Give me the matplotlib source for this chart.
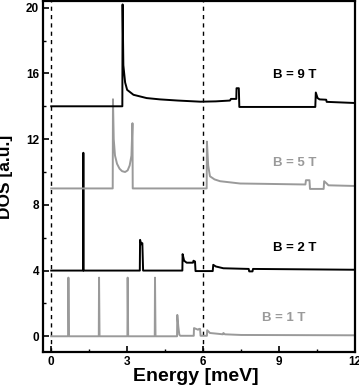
import numpy as np
import matplotlib.pyplot as plt
from matplotlib.ticker import MultipleLocator

# B = 9 T (black, offset 14)
e_9T = [0, 2.81, 2.82, 2.85, 2.92, 3.0, 3.25, 3.77, 4.3, 5.0, 5.9, 6.5, 7.06, 7.1, 7.31,
        7.32, 7.41, 7.43, 10.43, 10.45, 10.52, 10.6, 10.86, 10.88, 12.0]
d_9T = [14, 14, 20.2, 16.5, 15.45, 15.0, 14.7, 14.5, 14.42, 14.35, 14.28, 14.3, 14.35, 14.45, 14.45,
        15.1, 15.1, 13.96, 13.96, 14.84, 14.5, 14.42, 14.4, 14.27, 14.2]

# B = 5 T (grey, offset 9)
e_5T = [0, 2.43, 2.44, 2.47, 2.52, 2.6, 2.7, 2.8, 2.92, 3.02, 3.1, 3.17, 3.21, 3.22, 6.14,
        6.15, 6.2, 6.27, 6.45, 6.67, 7.46, 8.38, 10.04, 10.06, 10.2, 10.22, 10.76, 10.78,
        10.88, 10.95, 12.0]
d_5T = [9, 9, 14.43, 12.0, 11.0, 10.5, 10.2, 10.05, 10.0, 10.1, 10.4, 11.0, 12.97, 9.0, 9.0,
        11.85, 10.4, 9.74, 9.55, 9.44, 9.3, 9.28, 9.24, 9.5, 9.5, 8.97, 8.97, 9.44,
        9.3, 9.19, 9.15]

# B = 2 T (black, offset 4)
e_2T = [0, 1.26, 1.27, 1.28, 3.5, 3.51, 3.56, 3.6, 3.63, 5.18, 5.19, 5.25, 5.35, 5.6, 5.62,
        5.68, 5.7, 6.38, 6.4, 6.5, 6.8, 7.8, 7.82, 7.95, 7.97, 12.0]
d_2T = [4, 4, 11.17, 4, 4, 5.87, 5.6, 5.67, 4.0, 4.0, 5.0, 4.6, 4.48, 4.48, 4.6,
        4.55, 3.97, 3.97, 4.35, 4.25, 4.14, 4.1, 3.95, 3.95, 4.1, 4.05]

# B = 1 T (grey, offset 0)
e_1T = [0, 0.67, 0.68, 0.70, 1.88, 1.89, 1.91, 3.01, 3.02, 3.04, 4.09, 4.10, 4.12,
        4.97, 4.98, 5.02, 5.06, 5.1, 5.63, 5.64, 5.8, 5.84, 5.88, 5.9, 6.15, 6.16, 6.27,
        6.6, 6.78, 6.8, 6.86, 7.5, 12.0]
d_1T = [0, 0, 3.57, 0, 0, 3.57, 0, 0, 3.57, 0, 0, 3.57, 0,
        0, 1.3, 0.6, 0.1, 0.03, 0.03, 0.5, 0.4, 0.45, 0.45, 0.03, 0.03, 0.37, 0.2,
        0.15, 0.12, 0.2, 0.12, 0.08, 0.06]

labels = ["B = 9 T", "B = 5 T", "B = 2 T", "B = 1 T"]
label_pos = [(9.6, 15.9), (9.6, 10.55), (9.6, 5.4), (9.2, 1.1)]

black = "black"
grey = "#9a9a9a"

plt.rcParams['font.family'] = ['Liberation Sans', 'DejaVu Sans']
plt.rcParams['font.weight'] = 'bold'

fig = plt.figure(figsize=(3.59, 3.85), dpi=100)
ax = fig.add_axes([0.12, 0.086, 0.869, 0.911])

ax.axvline(0, color="black", lw=1.0, ls=(0, (3, 3)))
ax.axvline(6, color="black", lw=1.0, ls=(0, (3, 3)))

ax.plot(e_1T, d_1T, color=grey, lw=1.4)
ax.plot(e_2T, d_2T, color=black, lw=1.4)
ax.plot(e_5T, d_5T, color=grey, lw=1.4)
ax.plot(e_9T, d_9T, color=black, lw=1.4)

cols = [black, grey, black, grey]
for txt, (x, y), c in zip(labels, label_pos, cols):
    ax.text(x, y, txt, color=c, fontsize=9.5, fontweight='bold', ha='center', va='center')

ax.set_xlim(-0.32, 12)
ax.set_ylim(-0.95, 20.4)
ax.xaxis.set_major_locator(MultipleLocator(3))
ax.xaxis.set_minor_locator(MultipleLocator(1.5))
ax.yaxis.set_major_locator(MultipleLocator(4))
ax.yaxis.set_minor_locator(MultipleLocator(2))
ax.tick_params(which='major', direction='in', length=4, width=1.2, labelsize=8.5, pad=3)
ax.tick_params(which='minor', direction='in', length=2.5, width=1.0)
for lab in ax.get_xticklabels() + ax.get_yticklabels():
    lab.set_fontweight('bold')
for s in ax.spines.values():
    s.set_linewidth(1.6)

ax.set_xlabel("Energy [meV]", fontsize=14, fontweight='bold')
ax.set_ylabel("DOS [a.u.]", fontsize=12.5, fontweight='bold')
ax.xaxis.set_label_coords(0.49, -0.045)
ax.yaxis.set_label_coords(-0.095, 0.5)

fig.savefig("out.png", dpi=100)
